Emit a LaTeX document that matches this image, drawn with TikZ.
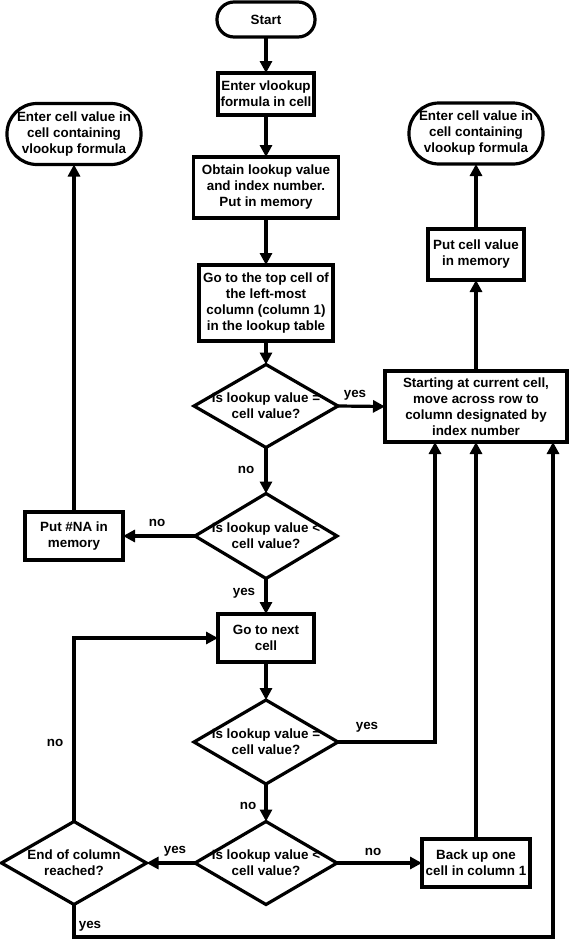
\documentclass[tikz,border=0pt]{standalone}
\usepackage{fontspec}
\setmainfont{Liberation Sans}
\usetikzlibrary{arrows.meta,shapes.geometric}
\begin{document}
\begin{tikzpicture}[x=1pt,y=-1pt,
  every node/.style={font=\bfseries\fontsize{13.4}{16}\selectfont, inner sep=0pt, outer sep=0pt},
  proc/.style={draw, line width=3.2pt, align=center},
  termbox/.style={draw, line width=3.2pt, align=center},
  dia/.style={draw, line width=3.2pt, shape=diamond},
  dtext/.style={align=center},
  conn/.style={line width=3.2pt, -{Triangle[length=12pt,width=12pt]}},
  plain/.style={line width=3.2pt},
  lbl/.style={}
]
\useasboundingbox (0,0) rectangle (568,940);

% terminators
\node[termbox, rounded corners=17pt, minimum width=98pt, minimum height=35pt] (start) at (266,19.5) {Start};
\node[termbox, rounded corners=30pt, minimum width=134pt, minimum height=61pt] (endR) at (476,133.5) {Enter cell value in\\cell containing\\vlookup formula};
\node[termbox, rounded corners=30pt, minimum width=134pt, minimum height=61pt] (endL) at (74,134) {Enter cell value in\\cell containing\\vlookup formula};

% process boxes
\node[proc, minimum width=96pt, minimum height=42pt] (enter) at (266,94) {Enter vlookup\\formula in cell};
\node[proc, minimum width=145pt, minimum height=61pt] (obtain) at (266,187.5) {Obtain lookup value\\and index number.\\Put in memory};
\node[proc, minimum width=134pt, minimum height=76pt] (goto) at (266,303) {Go to the top cell of\\the left-most\\column (column 1)\\in the lookup table};
\node[proc, minimum width=182pt, minimum height=71pt] (move) at (476,406.5) {Starting at current cell,\\move across row to\\column designated by\\index number};
\node[proc, minimum width=96pt, minimum height=51pt] (putcell) at (476,254.5) {Put cell value\\in memory};
\node[proc, minimum width=98pt, minimum height=48pt] (putna) at (74,536) {Put \#NA in\\memory};
\node[proc, minimum width=96pt, minimum height=48pt] (next) at (266,638) {Go to next\\cell};
\node[proc, minimum width=108pt, minimum height=48pt] (back) at (476,863) {Back up one\\cell in column 1};

% decisions
\node[dia, minimum width=144pt, minimum height=83pt] (d1) at (266,406) {};
\node[dtext] (d1t) at (d1) {Is lookup value =\\cell value?};
\node[dia, minimum width=142pt, minimum height=85pt] (d2) at (266,536) {};
\node[dtext] (d2t) at (d2) {Is lookup value <\\cell value?};
\node[dia, minimum width=144pt, minimum height=84pt] (d3) at (266,742) {};
\node[dtext] (d3t) at (d3) {Is lookup value =\\cell value?};
\node[dia, minimum width=142pt, minimum height=83pt] (d4) at (266,863) {};
\node[dtext] (d4t) at (d4) {Is lookup value <\\cell value?};
\node[dia, minimum width=145pt, minimum height=83pt] (eoc) at (74,863) {};
\node[dtext] (eoct) at (eoc) {End of column\\reached?};

% helper coordinates
\coordinate (c1) at (435,742);
\coordinate (c2) at (74,937);
\coordinate (c3) at (553,937);

% connectors
\draw[conn] (start) -- (enter);
\draw[conn] (enter) -- (obtain);
\draw[conn] (obtain) -- (goto);
\draw[conn] (goto) -- (d1);
\draw[conn] (d1.east) -- (move.west);
\draw[conn] (d1.south) -- (d2.north);
\draw[conn] (d2.west) -- (putna.east);
\draw[conn] (putna.north) -- (endL.south);
\draw[conn] (move.north) -- (putcell.south);
\draw[conn] (putcell.north) -- (endR.south);
\draw[conn] (d2.south) -- (next.north);
\draw[conn] (next.south) -- (d3.north);
\draw[conn] (d3.east) -- (c1) -- (c1 |- move.south);
\draw[conn] (d3.south) -- (d4.north);
\draw[conn] (d4.west) -- (eoc.east);
\draw[conn] (d4.east) -- (back.west);
\draw[conn] (back.north) -- (move.south);
\draw[conn] (eoc.north) |- (next.west);
\draw[conn] (eoc.south) -- (c2) -- (c3) -- (c3 |- move.south);

% labels
\node[lbl] (l1) at (355,395) {yes};
\node[lbl] (l2) at (246,470) {no};
\node[lbl] (l3) at (157,523) {no};
\node[lbl] (l4) at (244,593) {yes};
\node[lbl] (l5) at (367,727) {yes};
\node[lbl] (l6) at (248,806) {no};
\node[lbl] (l7) at (175,851) {yes};
\node[lbl] (l8) at (373,852) {no};
\node[lbl] (l9) at (55,743) {no};
\node[lbl] (l10) at (90,926) {yes};
\end{tikzpicture}
\end{document}
